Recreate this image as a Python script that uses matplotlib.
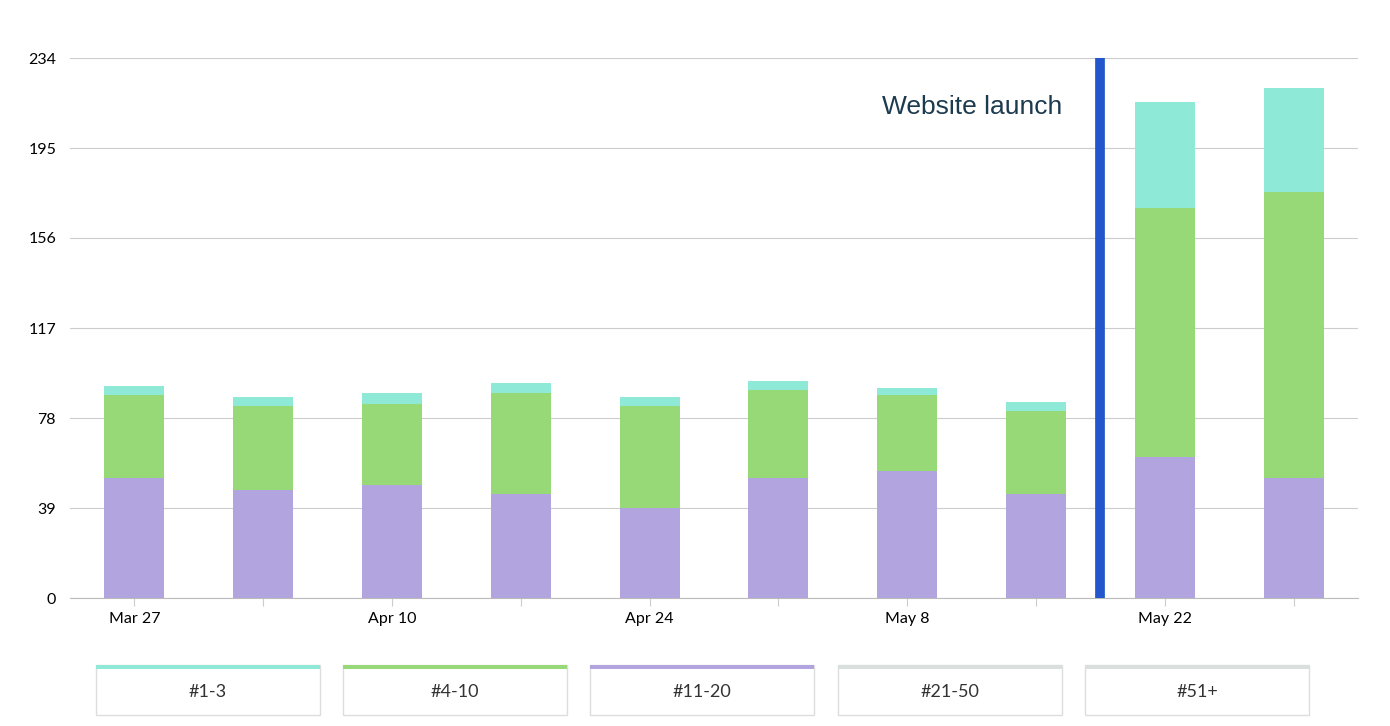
import matplotlib
matplotlib.use("Agg")
import matplotlib.pyplot as plt
from matplotlib.patches import Rectangle
import numpy as np

dates = ["Mar 27", "Apr 3", "Apr 10", "Apr 17", "Apr 24", "May 1", "May 8", "May 15", "May 22", "May 29"]
r11_20 = [52, 47, 49, 45, 39, 52, 55, 45, 61, 52]
r4_10 = [36, 36, 35, 44, 44, 38, 33, 36, 108, 124]
r1_3 = [4, 4, 5, 4, 4, 4, 3, 4, 46, 45]
yticks = [0, 39, 78, 117, 156, 195, 234]
legend_labels = ["#1-3", "#4-10", "#11-20", "#21-50", "#51+"]
legend_colors = ["#8eead6", "#98d977", "#b1a4df", "#d9dfdd", "#d9dfdd"]
launch_pos = 7.5

plt.rcParams['font.family'] = ['Lato', 'DejaVu Sans']
fig = plt.figure(figsize=(13.9, 7.26), dpi=100)
ax = fig.add_axes([70/1390, 1-598/726, (1358-70)/1390, (598-58)/726])
x = np.arange(len(dates))
w = 0.465
a = np.array(r11_20); b = np.array(r4_10); c = np.array(r1_3)
ax.bar(x, a, w, color="#b1a4df", zorder=3)
ax.bar(x, b, w, bottom=a, color="#98d977", zorder=3)
ax.bar(x, c, w, bottom=a+b, color="#8eead6", zorder=3)
ax.axvline(launch_pos, color="#2356cc", lw=7, zorder=4)
ax.text(launch_pos - 0.3, 212.8, "Website launch", ha="right", va="center",
        fontsize=19, color="#1d3b4f", family="Liberation Sans")
ax.set_xlim(-0.5, 9.5)
ax.set_ylim(0, 234)
ax.set_yticks(yticks)
ax.set_yticklabels([str(v) for v in yticks], fontsize=11.5)
ax.set_xticks(x)
ax.set_xticklabels([d if i % 2 == 0 else "" for i, d in enumerate(dates)], fontsize=11.5)
ax.tick_params(axis='y', length=0, pad=10)
ax.tick_params(axis='x', length=6, color="#cccccc", pad=4)
ax.grid(axis='y', color="#cccccc", lw=0.8, zorder=0)
for s in ["left", "right", "top"]:
    ax.spines[s].set_visible(False)
ax.spines["bottom"].set_color("#bbbbbb")

lx = [96, 343, 590, 838, 1085]
for xx, lab, col in zip(lx, legend_labels, legend_colors):
    fig.patches.append(Rectangle((xx/1390, 1-715/726), 224/1390, 50/726,
                                 transform=fig.transFigure, facecolor="white",
                                 edgecolor="#dddddd", lw=1))
    fig.patches.append(Rectangle((xx/1390, 1-669/726), 224/1390, 4/726,
                                 transform=fig.transFigure, facecolor=col, edgecolor="none"))
    fig.text((xx+112)/1390, 1-692/726, lab, ha="center", va="center", fontsize=13, color="#333333")

fig.savefig("out.png", dpi=100)
